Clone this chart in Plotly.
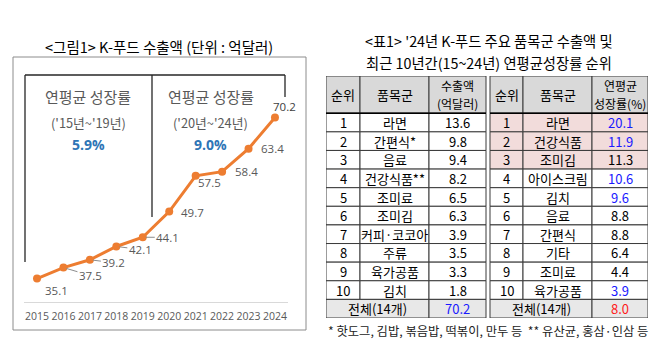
import plotly.graph_objects as go

W, H = 670, 354
KR = "Noto Sans CJK KR"

# ---------------- data ----------------
years = [2015, 2016, 2017, 2018, 2019, 2020, 2021, 2022, 2023, 2024]
exports = [35.1, 37.5, 39.2, 42.1, 44.1, 49.7, 57.5, 58.4, 63.4, 70.2]
period_labels = ["('15년~'19년)", "('20년~'24년)"]
period_rates = ["5.9%", "9.0%"]

left_header = [["순위"], ["품목군"], ["수출액", "(억달러)"]]
left_rank = [1, 2, 3, 4, 5, 6, 7, 8, 9, 10]
left_items = ["라면", "간편식*", "음료", "건강식품**", "조미료", "조미김", "커피·코코아", "주류", "육가공품", "김치"]
left_values = ["13.6", "9.8", "9.4", "8.2", "6.5", "6.3", "3.9", "3.5", "3.3", "1.8"]
left_total = ["전체(14개)", "70.2"]

right_header = [["순위"], ["품목군"], ["연평균", "성장률(%)"]]
right_rank = [1, 2, 3, 4, 5, 6, 7, 8, 9, 10]
right_items = ["라면", "건강식품", "조미김", "아이스크림", "김치", "음료", "간편식", "기타", "조미료", "육가공품"]
right_values = ["20.1", "11.9", "11.3", "10.6", "9.6", "8.8", "8.8", "6.4", "4.4", "3.9"]
right_total = ["전체(14개)", "8.0"]

# ---------------- styles ----------------
BLUE = "#1a1aff"
RED = "#ff1a1a"
right_value_colors = [BLUE, BLUE, "#000", BLUE, BLUE, "#000", "#000", "#000", "#000", BLUE]
right_highlight_rows = 3
ORANGE = "#ED7D31"
GRAY = "#595959"

def px(x): return x / W
def py(y): return 1 - y / H

fig = go.Figure()

# ---------------- line chart ----------------
fig.add_trace(go.Scatter(
    x=years, y=exports, mode="lines+markers",
    line=dict(color=ORANGE, width=3),
    marker=dict(color=ORANGE, size=8),
    hoverinfo="skip", showlegend=False, xaxis="x", yaxis="y"))

label_off = [(19, 12, False), (27, 8, True), (24, 3, True), (24, 3, True), (25, 0, True),
             (23, 1, False), (14, 7, False), (24, 0, False), (24, 0, False), (10, -11, False)]
for (yr, v, (dx, dy, leader)) in zip(years, exports, label_off):
    fig.add_annotation(
        x=yr, y=v, xref="x", yref="y", text=f"{v:.1f}",
        showarrow=True, ax=dx, ay=dy, axref="pixel", ayref="pixel",
        arrowhead=0, arrowwidth=1, standoff=3,
        arrowcolor="#8c8c8c" if leader else "rgba(0,0,0,0)",
        font=dict(family="Open Sans", size=11.5,
                  color="#404040" if v == exports[-1] else GRAY),
    )

def ptext(x, y, s, size, color="#000", family=KR):
    fig.add_annotation(x=px(x), y=py(y), xref="paper", yref="paper", showarrow=False,
                       xanchor="center", yanchor="middle", text=s,
                       font=dict(family=family, size=size, color=color))

shapes = []
shapes.append(dict(type="rect", xref="paper", yref="paper",
                   x0=px(13), x1=px(306), y0=py(330), y1=py(57),
                   line=dict(color="#8c8c8c", width=1)))
for (x0, y0, x1, y1) in [(25, 75, 25, 262), (25, 75, 285, 75), (152, 75, 152, 217), (285, 75, 285, 97)]:
    shapes.append(dict(type="line", xref="paper", yref="paper",
                       x0=px(x0), x1=px(x1), y0=py(y0), y1=py(y1),
                       line=dict(color="#262626", width=1.3)))

for cx, plab, rate in zip([88, 211], period_labels, period_rates):
    ptext(cx, 97, "연평균 성장률", 15, GRAY)
    ptext(cx, 122, plab, 12.8, GRAY)
    ptext(cx, 144, f"<b>{rate}</b>", 14, "#2E75B6", "Open Sans")

ptext(159, 46, "<그림1> K-푸드 수출액 (단위 : 억달러)", 14.5)

# ---------------- table ----------------
left_cols = [326, 360, 429, 486]
right_cols = [490, 523, 592, 648]
LINE = "#3a3a3a"
HEAD_FILL = "#d9d9d9"
TOTAL_FILL = "#e8e8e8"
PINK = "#f2dcdb"

def cell(x0, x1, r0, r1, fill, lw=1):
    shapes.append(dict(type="rect", xref="x2", yref="y2", x0=x0, x1=x1, y0=r0, y1=r1,
                       fillcolor=fill, line=dict(color=LINE, width=lw), layer="below"))

def text(x, r, s, color="#000", size=13, family=KR, pad=1):
    fig.add_annotation(x=x, y=r, xref="x2", yref="y2", text=s, showarrow=False,
                       xanchor="center", yanchor="middle", borderpad=pad,
                       font=dict(family=family, size=size, color=color))

def block(cols, header, ranks, items, values, total, value_colors, highlight):
    for j, h in enumerate(header):
        cell(cols[j], cols[j + 1], 0, 2, HEAD_FILL)
        cx = (cols[j] + cols[j + 1]) / 2
        if len(h) == 1:
            text(cx, 1, h[0])
        else:
            text(cx, 0.52, h[0], size=12, pad=0)
            text(cx, 1.48, h[1], size=12, pad=0)
    for i, (rk, it, v) in enumerate(zip(ranks, items, values)):
        r0, r1 = i + 2, i + 3
        fill = PINK if i < highlight else "white"
        for j in range(3):
            cell(cols[j], cols[j + 1], r0, r1, fill)
        text((cols[0] + cols[1]) / 2, r0 + 0.5, str(rk))
        text((cols[1] + cols[2]) / 2, r0 + 0.5, it)
        text((cols[2] + cols[3]) / 2, r0 + 0.5, v, color=value_colors[i])
    cell(cols[0], cols[2], 12, 13, TOTAL_FILL)
    cell(cols[2], cols[3], 12, 13, TOTAL_FILL)
    text((cols[0] + cols[2]) / 2, 12.5, total[0])
    shapes.append(dict(type="line", xref="x2", yref="y2", x0=cols[0], x1=cols[3], y0=2, y1=2,
                       line=dict(color="#000", width=1.6)))

block(left_cols, left_header, left_rank, left_items, left_values, left_total,
      ["#000"] * 10, 0)
text((left_cols[2] + left_cols[3]) / 2, 12.5, left_total[1], color=BLUE)
block(right_cols, right_header, right_rank, right_items, right_values, right_total,
      right_value_colors, right_highlight_rows)
text((right_cols[2] + right_cols[3]) / 2, 12.5, right_total[1], color=RED)

ptext(489, 41, "<표1> '24년 K-푸드 주요 품목군 수출액 및", 14.3)
ptext(489, 62, "최근 10년간(15~24년) 연평균성장률 순위", 14.3)
ptext(488, 331, "* 핫도그, 김밥, 볶음밥, 떡볶이, 만두 등  ** 유산균, 홍삼·인삼 등", 12.3, "#222")

# ---------------- layout ----------------
fig.update_layout(
    width=W, height=H, margin=dict(l=0, r=0, t=0, b=0),
    paper_bgcolor="white", plot_bgcolor="rgba(0,0,0,0)",
    shapes=shapes, showlegend=False,
    xaxis=dict(domain=[px(23.8), px(288.2)], range=[2014.5, 2024.5],
               tickmode="array", tickvals=years, ticktext=[str(y) for y in years],
               tickfont=dict(family="Open Sans", size=10.5, color=GRAY),
               ticklabelstandoff=4,
               showgrid=False, zeroline=False, showline=True, linecolor="#d9d9d9",
               linewidth=1, ticks="", fixedrange=True),
    yaxis=dict(domain=[py(302), py(72.5)], range=[30, 80], visible=False,
               showgrid=False, zeroline=False, fixedrange=True),
    xaxis2=dict(domain=[px(326), px(648)], range=[326, 648], visible=False,
                anchor="y2", fixedrange=True),
    yaxis2=dict(domain=[py(318), py(76)], range=[13, 0], visible=False,
                anchor="x2", fixedrange=True),
)

fig.write_html("out.html")
